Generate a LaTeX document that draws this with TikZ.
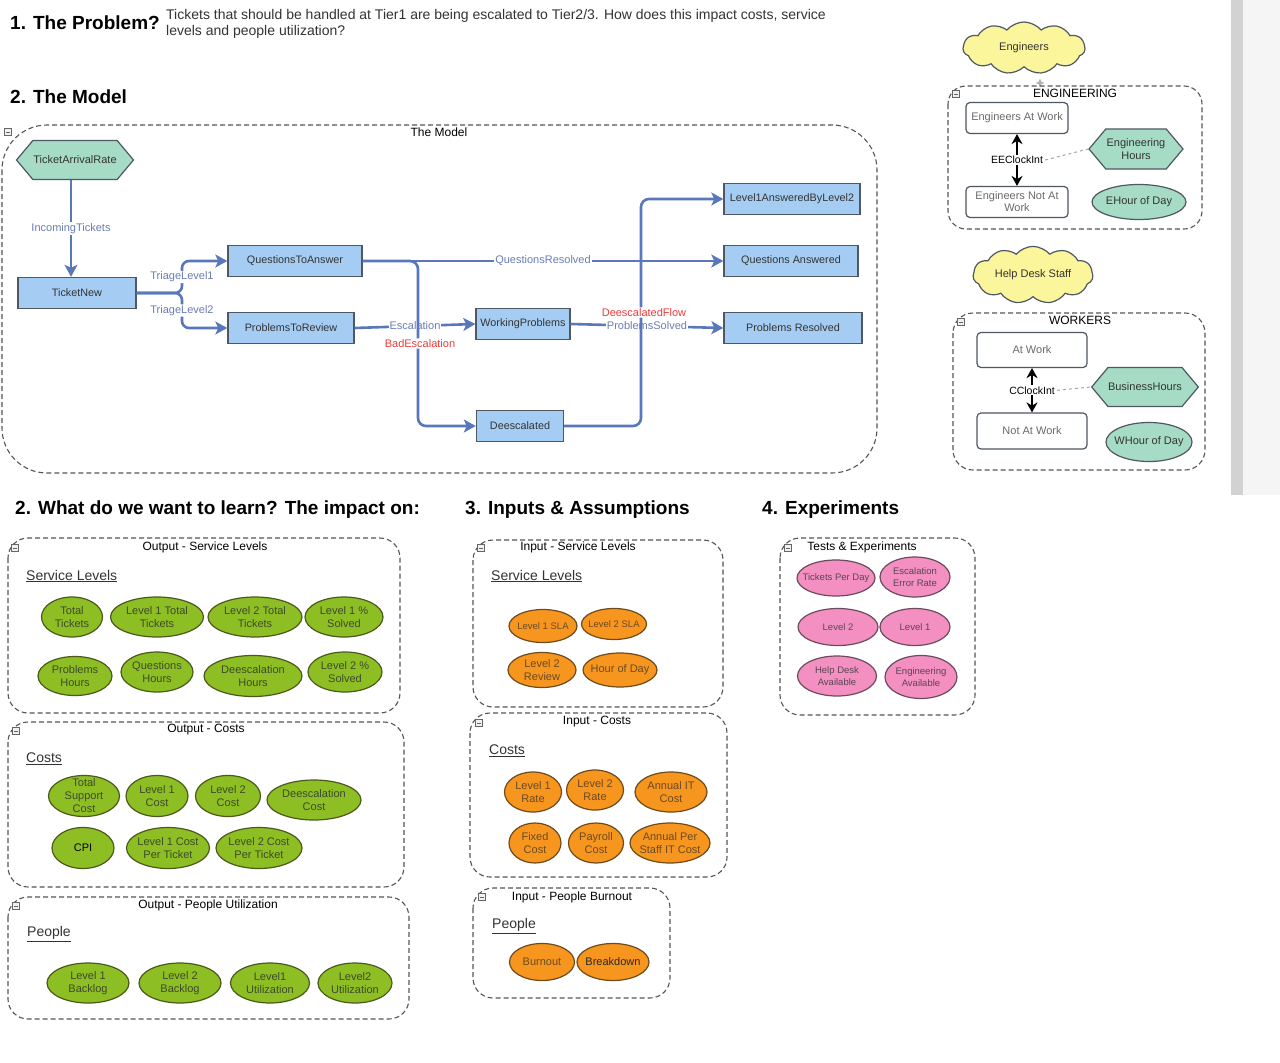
\documentclass[tikz,border=0pt]{standalone}
\usepackage{fontspec}
\setmainfont{Liberation Sans}
\usetikzlibrary{shapes.geometric,shapes.symbols,arrows.meta}
\newcommand\myfs[2]{\fontsize{#1pt}{#2pt}\selectfont}
\newcommand\cicon[2]{\draw[draw=gray!80!black, line width=0.6pt, fill=gray!12] (#1-3.5,#2-3.5) rectangle (#1+3.5,#2+3.5); \draw[gray!80!black, line width=0.6pt] (#1-2,#2) -- (#1+2,#2);}
\definecolor{flowc}{HTML}{5878BB}
\definecolor{labc}{HTML}{6A7DB5}
\definecolor{redc}{HTML}{EE3B3B}
\definecolor{stockc}{HTML}{A5CDF3}
\definecolor{bordc}{HTML}{4F5762}
\definecolor{mintc}{HTML}{A6DCC6}
\definecolor{yellowc}{HTML}{FBF59C}
\definecolor{greenc}{HTML}{8DBE23}
\definecolor{greenb}{HTML}{4B5A1C}
\definecolor{greent}{HTML}{3E4A2A}
\definecolor{orangec}{HTML}{F7961E}
\definecolor{orangeb}{HTML}{6E4A1C}
\definecolor{oranget}{HTML}{6B4A22}
\definecolor{pinkc}{HTML}{F38FC1}
\definecolor{pinkb}{HTML}{6D4B5E}
\definecolor{pinkt}{HTML}{5A4652}
\definecolor{contc}{HTML}{555555}
\definecolor{txtc}{HTML}{333333}
\definecolor{graytxt}{HTML}{6A6A6A}
\begin{document}
\begin{tikzpicture}[x=1pt,y=-1pt,
  cont/.style={draw=contc, line width=1.1pt, dash pattern=on 5pt off 3pt, rounded corners=20pt},
  ctitle/.style={font=\myfs{12}{13}, text=black, inner sep=0pt},
  stock/.style={rectangle, draw=bordc, fill=stockc, line width=1.4pt, minimum height=31pt, inner sep=0pt, font=\myfs{10.8}{12}, text=txtc},
  hexa/.style={signal, signal to=east and west, signal pointer angle=100, draw=bordc, fill=mintc, line width=1.2pt, inner sep=0pt, align=center, font=\myfs{11}{12.5}, text=txtc},
  flow/.style={draw=flowc, line width=2.6pt, -{Stealth[length=12pt,width=13pt,inset=3pt]}},
  flab/.style={fill=white, inner sep=1pt, text=labc, font=\myfs{11}{13}},
  rlab/.style={fill=white, inner sep=1pt, text=redc, font=\myfs{11}{13}},
  clab/.style={fill=white, inner sep=1pt, text=black, font=\myfs{10.5}{12}},
  dbl/.style={draw=black, line width=2.4pt, {Stealth[length=10pt,width=11pt]}-{Stealth[length=10pt,width=11pt]}},
  ctl/.style={draw=gray!70, line width=1pt, dashed},
  wbox/.style={rectangle, rounded corners=4pt, draw=bordc, line width=1.2pt, fill=white, minimum width=102pt, minimum height=31pt, inner sep=0pt, align=center, font=\myfs{11}{12}, text=graytxt},
  ell/.style={ellipse, line width=1.2pt, inner sep=-30pt, align=center, font=\myfs{11}{13}},
  gell/.style={ell, fill=greenc, draw=greenb, text=greent},
  oell/.style={ell, fill=orangec, draw=orangeb, text=oranget},
  pell/.style={ell, fill=pinkc, draw=pinkb, text=pinkt, font=\myfs{9.5}{11.5}},
  mell/.style={ell, fill=mintc, draw=bordc, text=txtc},
  cloudn/.style={cloud, cloud puffs=11, cloud puff arc=100, aspect=2.4, draw=bordc, fill=yellowc, line width=1.2pt, inner sep=0pt, font=\myfs{11}{13}, text=txtc},
  heading/.style={font=\bfseries\myfs{19}{21}, anchor=west, inner sep=0pt},
  uhead/.style={font=\myfs{14}{16}, anchor=west, inner sep=0pt, text=txtc}
]
\useasboundingbox (0,0) rectangle (1280,1063);
\fill[white] (0,0) rectangle (1280,1063);
% scrollbar area
\fill[gray!35] (1231,0) rectangle (1243,495);
\fill[gray!8] (1243,0) rectangle (1280,495);

% ---------- headings ----------
\node[heading] (h1) at (10,23) {1. The Problem?};
\node[anchor=west, inner sep=0pt, align=left, font=\myfs{14}{16}, text=txtc] (prob) at (166,24) {Tickets that should be handled at Tier1 are being escalated to Tier2/3. How does this impact costs, service\\levels and people utilization?};
\node[heading] (h2) at (10,97) {2. The Model};
\node[heading] (h3) at (15,510) {2. What do we want to learn? The impact on:};
\node[heading] (h4) at (465,510) {3. Inputs \& Assumptions};
\node[heading] (h5) at (762,510) {4. Experiments};

% ---------- The Model ----------
\draw[cont, rounded corners=45pt] (2,125) rectangle (877,473);
\cicon{8}{132}
\node[ctitle] (tmodel) at (439,132) {The Model};

\node[hexa, minimum width=117pt, minimum height=39pt] (tar) at (75,160) {TicketArrivalRate};
\node[stock, minimum width=118pt] (tn) at (77,293) {TicketNew};
\node[stock, minimum width=134pt] (qta) at (295,261) {QuestionsToAnswer};
\node[stock, minimum width=126pt] (ptr) at (291,328) {ProblemsToReview};
\node[stock, minimum width=94pt] (wp) at (523,324) {WorkingProblems};
\node[stock, minimum width=87pt] (de) at (520,426) {Deescalated};
\node[stock, minimum width=136pt] (l1ab) at (792,199) {Level1AnsweredByLevel2};
\node[stock, minimum width=134pt] (qa) at (791,261) {Questions Answered};
\node[stock, minimum width=138pt] (pr) at (793,328) {Problems Resolved};

\draw[flow] (tar.south -| 71,0) -- node[flab] {IncomingTickets} (tn.north -| 71,0);
\draw[flow, rounded corners=7pt] (tn.east) -- (182,293) -- node[flab] {TriageLevel1} (182,261) -- (qta.west);
\draw[flow, rounded corners=7pt] (tn.east) -- (182,293) -- node[flab] {TriageLevel2} (182,328) -- (ptr.west);
\draw[flow] (qta.east) -- node[flab] {QuestionsResolved} (qa.west);
\draw[flow] (ptr.east) -- node[flab] {Escalation} (wp.west);
\draw[flow, rounded corners=8pt] (qta.east) -- (418,261) -- node[rlab, xshift=2pt] {BadEscalation} (418,426) -- (de.west);
\draw[flow] (wp.east) -- node[flab] {ProblemsSolved} (pr.west);
\draw[flow, rounded corners=8pt] (de.east) -- (641,426) -- node[rlab, xshift=3pt] {DeescalatedFlow} (641,199) -- (l1ab.west);

% ---------- Engineering ----------
\node[cloudn, minimum width=122pt, minimum height=52pt] (engc) at (1024,48) {Engineers};
\node[star, star points=4, star point ratio=2.5, fill=gray!60, inner sep=0pt, minimum size=9pt] (eicon) at (1040,83) {};
\draw[cont, rounded corners=18pt] (948,86) rectangle (1202,229);
\cicon{956}{94}
\node[ctitle] (teng) at (1075,93) {ENGINEERING};
\node[wbox] (eaw) at (1017,118) {Engineers At Work};
\node[wbox] (enaw) at (1017,202) {Engineers Not At\\Work};
\node[hexa, minimum width=94pt, minimum height=40pt] (eh) at (1136,149) {Engineering\\Hours};
\node[mell, minimum width=94pt, minimum height=35pt] (ehd) at (1139,202) {EHour of Day};
\draw[dbl] (eaw) -- node[clab] (eec) {EEClockInt} (enaw);
\draw[ctl] (eec.east) -- (eh.west);

% ---------- Workers ----------
\node[cloudn, minimum width=120pt, minimum height=50pt] (hdc) at (1033,275) {Help Desk Staff};
\draw[cont] (953,313) rectangle (1205,470);
\cicon{961}{322}
\node[ctitle] (twork) at (1080,320) {WORKERS};
\node[wbox, minimum width=110pt, minimum height=35pt] (aw) at (1032,350) {At Work};
\node[wbox, minimum width=110pt, minimum height=36pt] (naw) at (1032,431) {Not At Work};
\node[hexa, minimum width=94pt, minimum height=39pt] (bh) at (1145,387) {BusinessHours};
\node[mell, minimum width=86pt, minimum height=39pt] (whd) at (1149,442) {WHour of Day};
\draw[dbl] (aw) -- node[clab] (cci) {CClockInt} (naw);
\draw[ctl] (cci.east) -- (bh.west);

% ---------- Output - Service Levels ----------
\draw[cont] (8,538) rectangle (400,713);
\cicon{15}{548}
\node[ctitle] (tosl) at (205,547) {Output - Service Levels};
\node[uhead] (uosl) at (26,576) {\underline{Service Levels}};
\node[gell, minimum width=61pt, minimum height=40pt] (tt) at (72,617) {Total\\Tickets};
\node[gell, minimum width=93pt, minimum height=40pt] (l1tt) at (157,617) {Level 1 Total\\Tickets};
\node[gell, minimum width=94pt, minimum height=40pt] (l2tt) at (255,617) {Level 2 Total\\Tickets};
\node[gell, minimum width=78pt, minimum height=40pt] (l1s) at (344,617) {Level 1 \%\\Solved};
\node[gell, minimum width=74pt, minimum height=39pt] (ph) at (75,676) {Problems\\Hours};
\node[gell, minimum width=72pt, minimum height=40pt] (qh) at (157,672) {Questions\\Hours};
\node[gell, minimum width=98pt, minimum height=41pt] (dh) at (253,676) {Deescalation\\Hours};
\node[gell, minimum width=74pt, minimum height=40pt] (l2s) at (345,672) {Level 2 \%\\Solved};

% ---------- Output - Costs ----------
\draw[cont] (8,722) rectangle (404,887);
\cicon{16}{731}
\node[ctitle] (toc) at (206,730) {Output - Costs};
\node[uhead] (uoc) at (26,759) {\underline{Costs}};
\node[gell, minimum width=71pt, minimum height=41pt] (tsc) at (84,796) {Total\\Support\\Cost};
\node[gell, minimum width=62pt, minimum height=41pt] (l1c) at (157,796) {Level 1\\Cost};
\node[gell, minimum width=65pt, minimum height=41pt] (l2c) at (228,796) {Level 2\\Cost};
\node[gell, minimum width=94pt, minimum height=40pt] (dc) at (314,800) {Deescalation\\Cost};
\node[gell, minimum width=62pt, minimum height=41pt, text=black] (cpi) at (83,848) {CPI};
\node[gell, minimum width=83pt, minimum height=41pt] (l1cpt) at (168,848) {Level 1 Cost\\Per Ticket};
\node[gell, minimum width=86pt, minimum height=41pt] (l2cpt) at (259,848) {Level 2 Cost\\Per Ticket};

% ---------- Output - People Utilization ----------
\draw[cont] (8,897) rectangle (409,1019);
\cicon{16}{906}
\node[ctitle] (topu) at (208,905) {Output - People Utilization};
\node[uhead] (uopu) at (27,934) {\underline{People}};
\node[gell, minimum width=82pt, minimum height=40pt] (l1b) at (88,983) {Level 1\\Backlog};
\node[gell, minimum width=82pt, minimum height=40pt] (l2b) at (180,983) {Level 2\\Backlog};
\node[gell, minimum width=79pt, minimum height=40pt] (l1u) at (270,983) {Level1\\Utilization};
\node[gell, minimum width=74pt, minimum height=40pt] (l2u) at (355,983) {Level2\\Utilization};

% ---------- Input - Service Levels ----------
\draw[cont] (473,540) rectangle (723,707);
\cicon{481}{548}
\node[ctitle] (tisl) at (578,547) {Input - Service Levels};
\node[uhead] (uisl) at (491,576) {\underline{Service Levels}};
\node[oell, minimum width=68pt, minimum height=33pt, font=\myfs{9.5}{11}] (l1sla) at (543,626) {Level 1 SLA};
\node[oell, minimum width=65pt, minimum height=31pt, font=\myfs{9.5}{11}] (l2sla) at (614,624) {Level 2 SLA};
\node[oell, minimum width=68pt, minimum height=35pt] (l2rev) at (542,670) {Level 2\\Review};
\node[oell, minimum width=74pt, minimum height=34pt] (hod) at (620,670) {Hour of Day};

% ---------- Input - Costs ----------
\draw[cont] (470,713) rectangle (727,877);
\cicon{479}{723}
\node[ctitle] (tic) at (597,722) {Input - Costs};
\node[uhead] (uic) at (489,751) {\underline{Costs}};
\node[oell, minimum width=57pt, minimum height=40pt] (l1r) at (533,792) {Level 1\\Rate};
\node[oell, minimum width=57pt, minimum height=40pt] (l2r) at (595,790) {Level 2\\Rate};
\node[oell, minimum width=72pt, minimum height=40pt] (aitc) at (671,792) {Annual IT\\Cost};
\node[oell, minimum width=52pt, minimum height=40pt] (fc) at (535,843) {Fixed\\Cost};
\node[oell, minimum width=55pt, minimum height=40pt] (pc) at (596,843) {Payroll\\Cost};
\node[oell, minimum width=80pt, minimum height=40pt] (apsc) at (670,843) {Annual Per\\Staff IT Cost};

% ---------- Input - People Burnout ----------
\draw[cont] (473,888) rectangle (670,998);
\cicon{482}{897}
\node[ctitle] (tipb) at (572,897) {Input - People Burnout};
\node[uhead] (uipb) at (492,926) {\underline{People}};
\node[oell, minimum width=65pt, minimum height=37pt] (bo) at (542,962) {Burnout};
\node[oell, minimum width=72pt, minimum height=37pt, text=black!85] (bd) at (613,962) {Breakdown};

% ---------- Tests & Experiments ----------
\draw[cont] (780,538) rectangle (975,715);
\cicon{788}{548}
\node[ctitle] (tte) at (862,547) {Tests \& Experiments};
\node[pell, minimum width=78pt, minimum height=36pt] (tpd) at (836,578) {Tickets Per Day};
\node[pell, minimum width=70pt, minimum height=40pt] (eer) at (915,577) {Escalation\\Error Rate};
\node[pell, minimum width=80pt, minimum height=37pt] (lv2) at (838,627) {Level 2};
\node[pell, minimum width=70pt, minimum height=37pt] (lv1) at (915,627) {Level 1};
\node[pell, minimum width=79pt, minimum height=40pt] (hda) at (837,676) {Help Desk\\Available};
\node[pell, minimum width=72pt, minimum height=43pt] (ea) at (921,677) {Engineering\\Available};
\end{tikzpicture}
\end{document}
